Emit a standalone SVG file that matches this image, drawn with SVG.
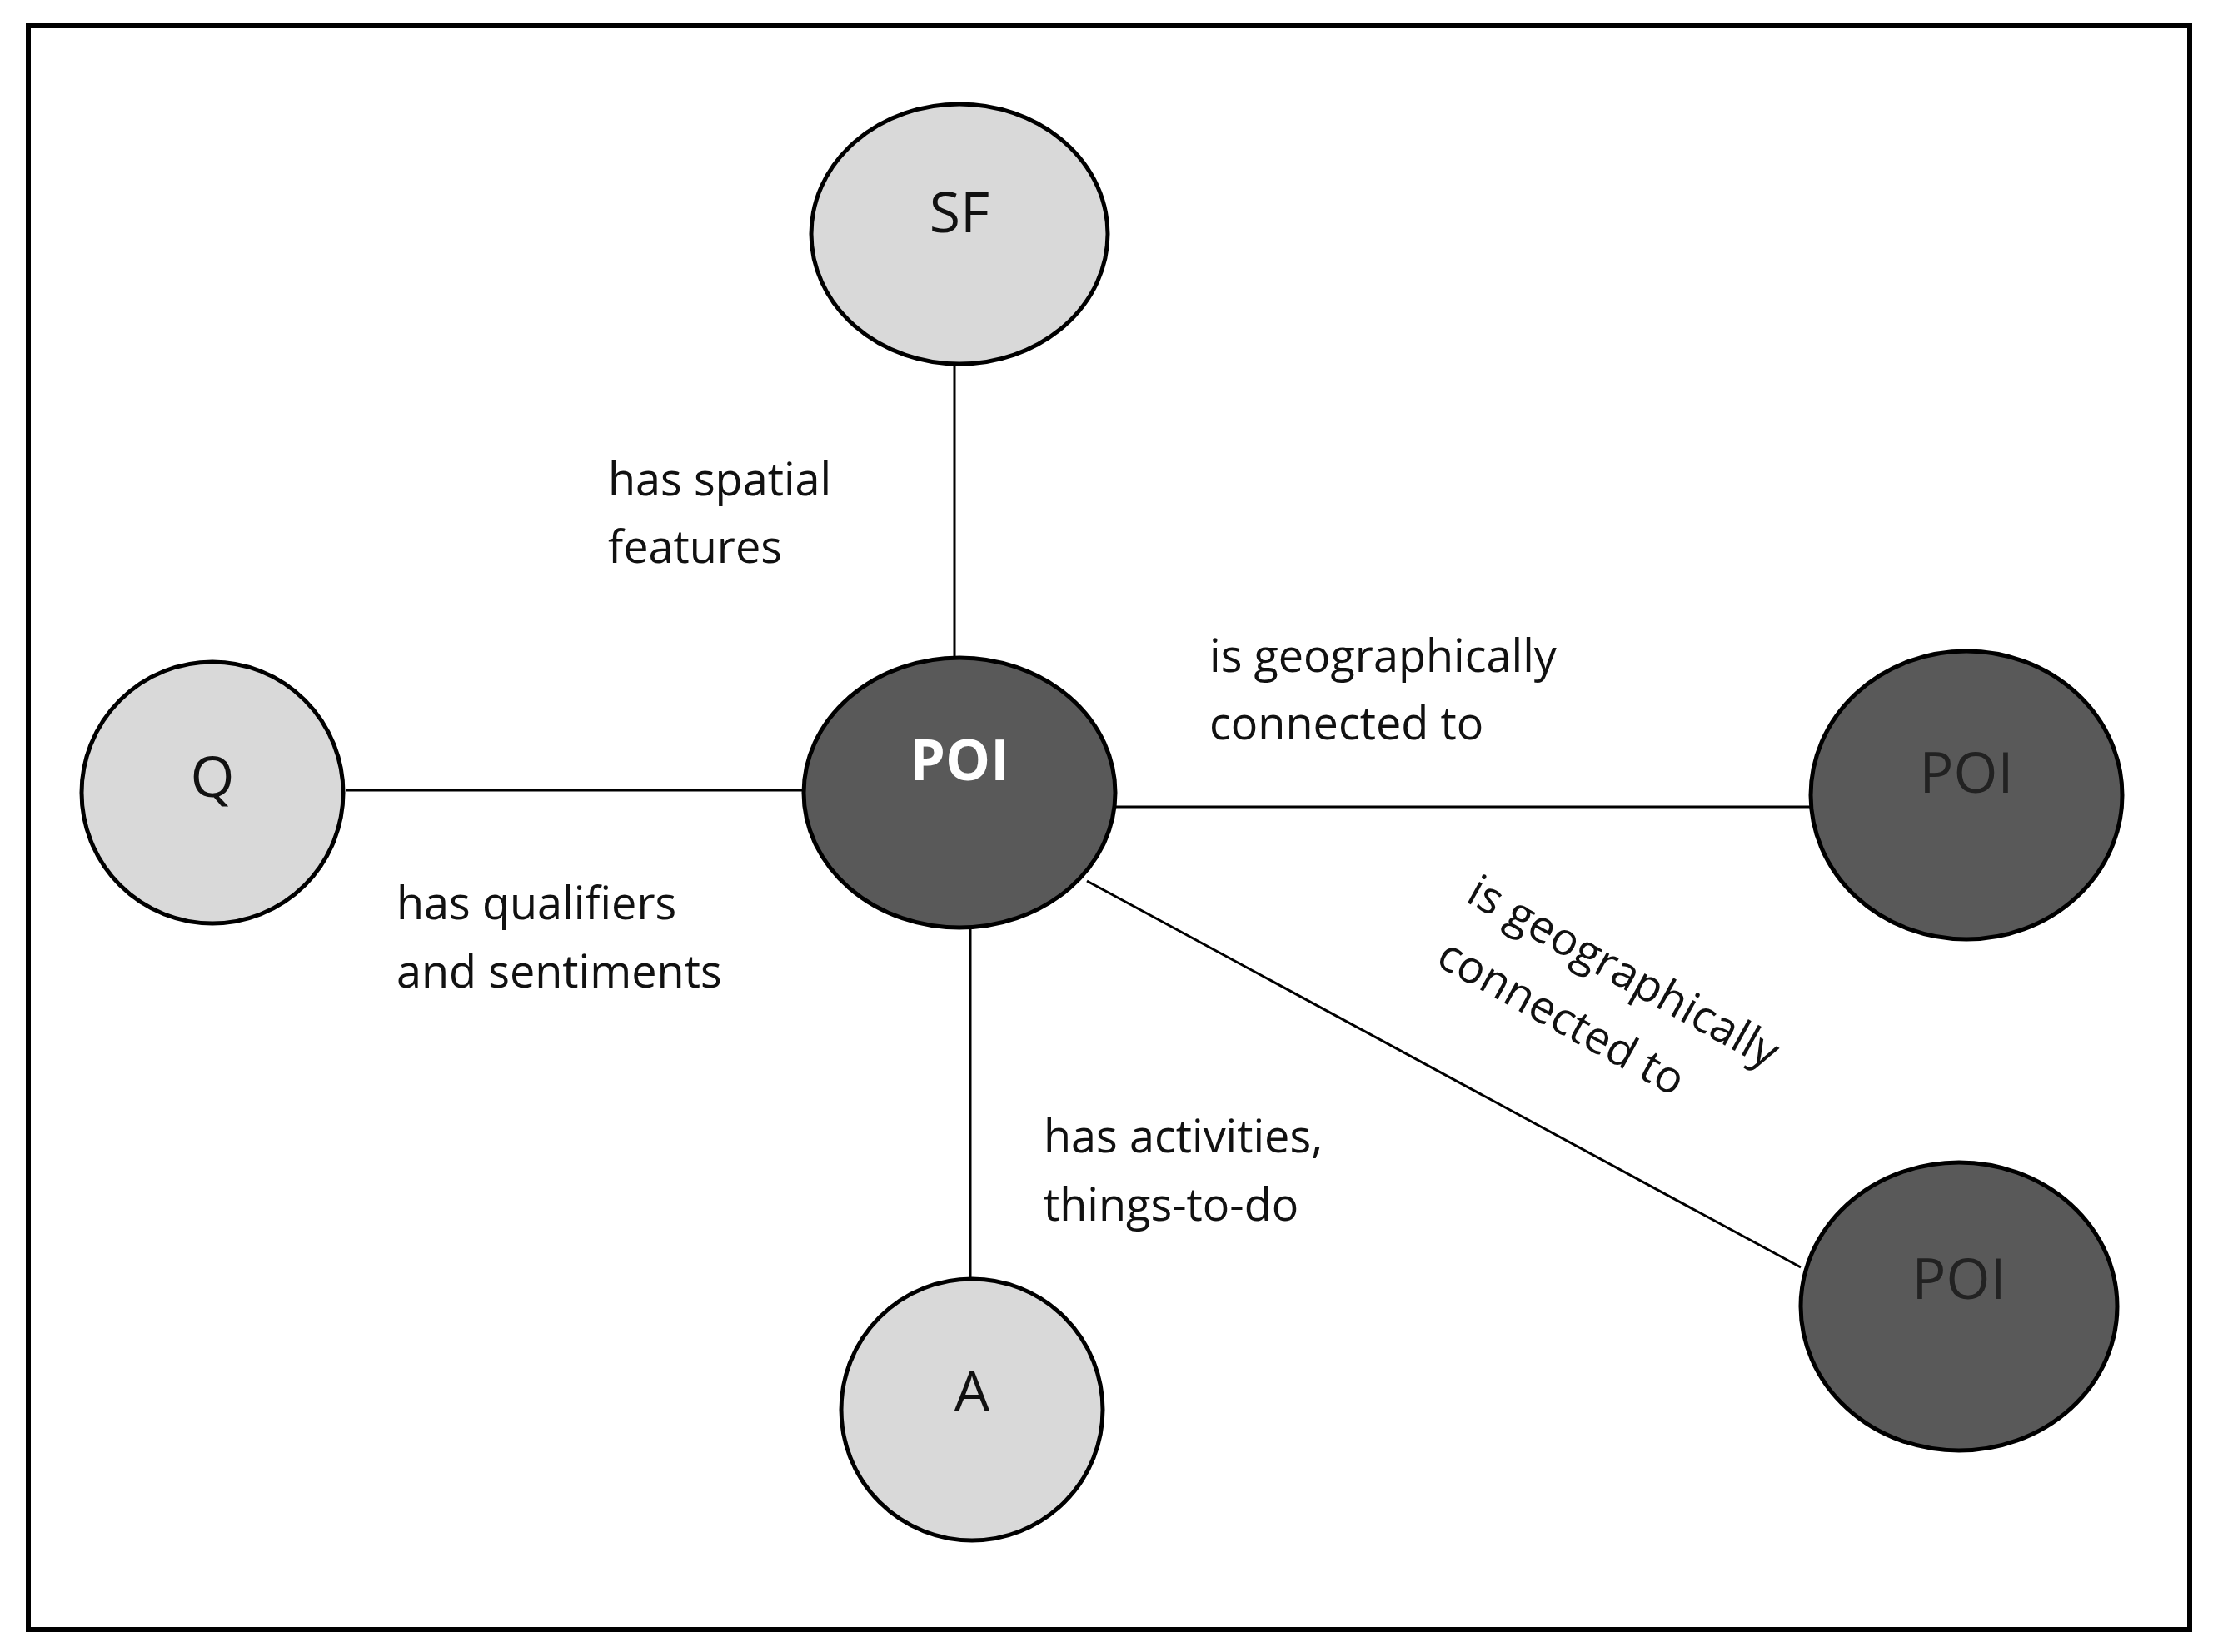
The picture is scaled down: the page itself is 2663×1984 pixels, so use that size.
<svg xmlns="http://www.w3.org/2000/svg" width="2663" height="1984" viewBox="0 0 2663 1984">
<style>
.l{fill:#d9d9d9;stroke:#000;stroke-width:5}
.d{fill:#595959;stroke:#000;stroke-width:5}
.e{stroke:#000;stroke-width:3;fill:none}
text{font-family:"Open Sans","Liberation Sans",sans-serif;font-size:54px;fill:#111}
.n{font-size:68px;text-anchor:middle}
</style>
<rect x="0" y="0" width="2663" height="1984" fill="#fff"/>
<rect x="34" y="31" width="2595" height="1926" fill="none" stroke="#000" stroke-width="6"/>
<g id="connectors">
<line class="e" x1="1146" y1="439" x2="1146" y2="790"/>
<line class="e" x1="416" y1="949" x2="965" y2="949"/>
<line class="e" x1="1339" y1="969" x2="2174" y2="969"/>
<line class="e" x1="1305" y1="1058" x2="2162" y2="1522"/>
<line class="e" x1="1165" y1="1113" x2="1165" y2="1536"/>
</g>
<g id="labels">
<text x="730" y="595">has spatial</text>
<text x="730" y="676">features</text>
<text x="1452" y="807">is geographically</text>
<text x="1452" y="888">connected to</text>
<text x="476" y="1104">has qualifiers</text>
<text x="476" y="1186">and sentiments</text>
<text x="1253" y="1384">has activities,</text>
<text x="1253" y="1466">things-to-do</text>
<text transform="translate(1758,1082) rotate(29)">is geographically</text>
<text transform="translate(1722,1158) rotate(29)">connected to</text>
</g>
<g id="sf"><ellipse class="l" cx="1152" cy="281" rx="178" ry="156"/><text class="n" x="1152" y="279">SF</text></g>
<g id="poi"><ellipse class="d" cx="1152" cy="952" rx="187" ry="162"/><text class="n" x="1152" y="937" style="fill:#fff;font-weight:bold">POI</text></g>
<g id="q"><ellipse class="l" cx="255" cy="952" rx="157" ry="157"/><text class="n" x="255" y="957">Q</text></g>
<g id="poi2"><ellipse class="d" cx="2361" cy="955" rx="187" ry="173"/><text class="n" x="2361" y="952" style="fill:#222">POI</text></g>
<g id="poi3"><ellipse class="d" cx="2352" cy="1569" rx="190" ry="173"/><text class="n" x="2352" y="1560" style="fill:#222">POI</text></g>
<g id="a"><ellipse class="l" cx="1167" cy="1693" rx="157" ry="157"/><text class="n" x="1167" y="1695">A</text></g>
</svg>
